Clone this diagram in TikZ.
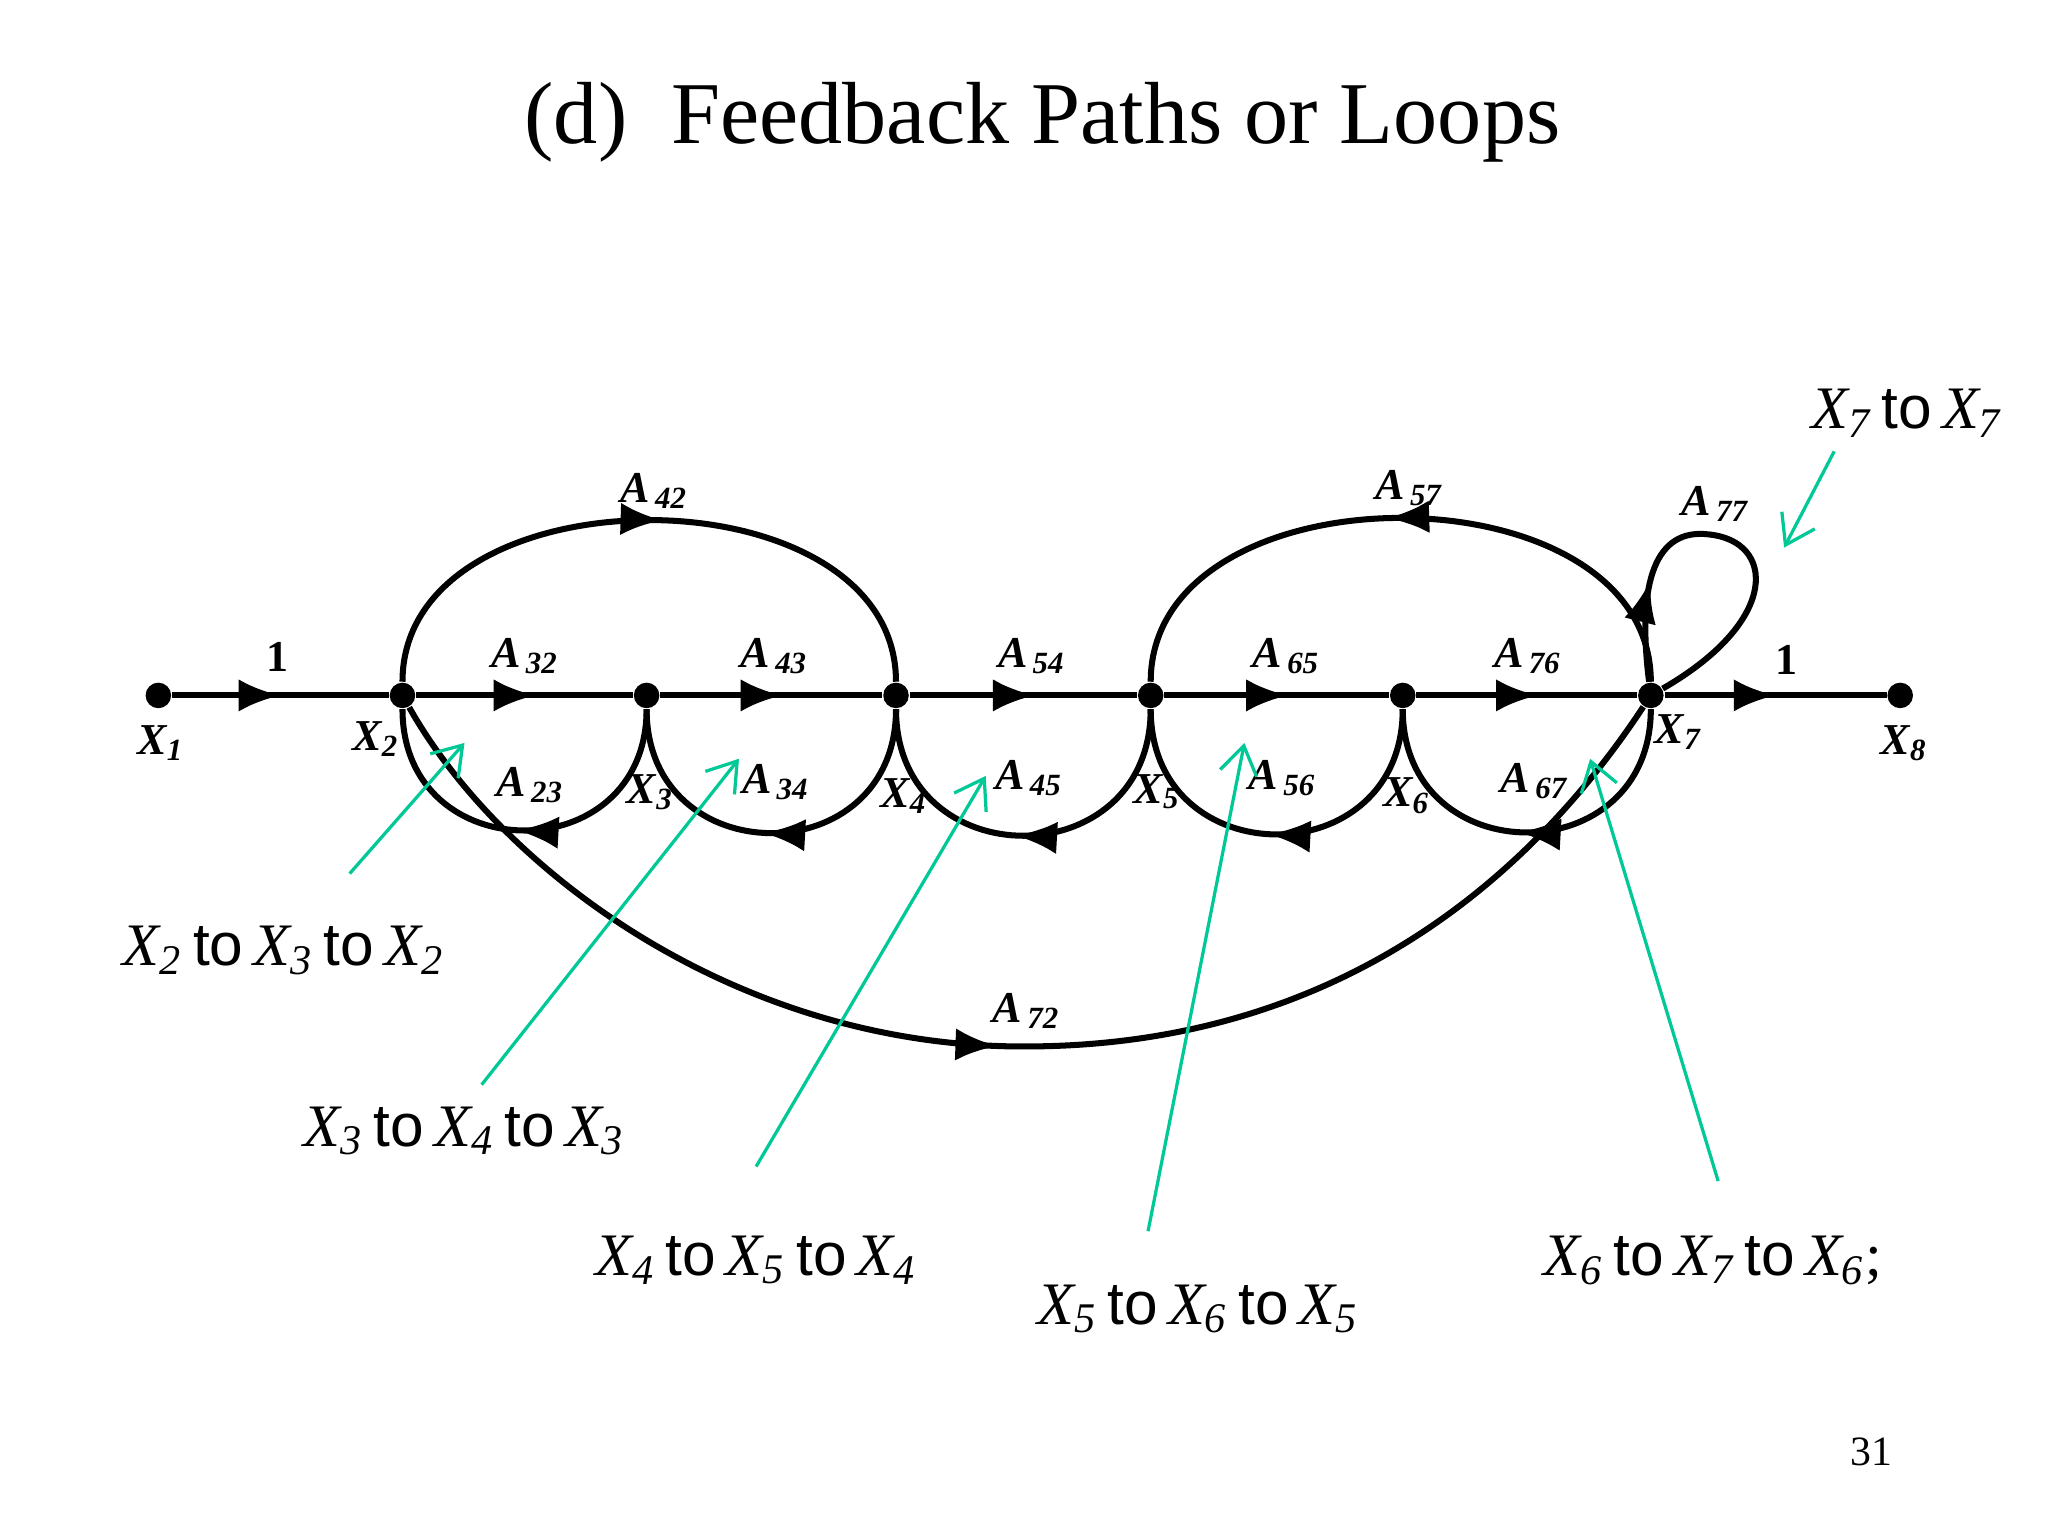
\documentclass[tikz,border=0pt]{standalone}
\usepackage{fontspec}
\setmainfont{Liberation Serif}
\newfontfamily\lsans{Liberation Sans}
\usetikzlibrary{decorations.markings,arrows.meta}
\newcommand{\lbA}[1]{{\bfseries\itshape A\textsubscript{\,#1}}}
\newcommand{\lbX}[1]{{\bfseries\itshape X\textsubscript{#1}}}
\newcommand{\tx}[1]{{\itshape X\textsubscript{#1}}}
\newcommand{\tto}{\,{\lsans to}\,}
\begin{document}
\begin{tikzpicture}[x=0.01cm,y=-0.01cm,
  dot/.style={circle,fill=black,inner sep=0pt,minimum size=5.5pt},
  edge/.style={line width=1.3pt},
  mark/.style={postaction={decorate},decoration={markings,mark=at position #1 with {\arrow{Latex[length=9pt,width=7pt]}}}},
  lab/.style={font=\fontsize{9.5}{11}\selectfont},
  big/.style={font=\fontsize{13}{15}\selectfont},
  ptr/.style={draw={rgb,255:red,0;green,200;blue,150},line width=0.7pt,-{Straight Barb[length=6pt,width=8pt]}}]
\useasboundingbox (0,0) rectangle (1552,1164);
\node[font=\fontsize{19}{22}\selectfont] (title) at (790,93) {(d)\ \ Feedback Paths or Loops};
\node[font=\fontsize{9}{11}\selectfont] (pg) at (1418,1100) {31};
\foreach \n/\x in {1/120,2/305,3/490,4/679,5/872,6/1063,7/1251,8/1440}
  \node[dot] (X\n) at (\x,527) {};
% forward path
\draw[edge,mark=0.5] (X1) -- (X2);
\draw[edge,mark=0.55] (X2) -- (X3);
\draw[edge,mark=0.55] (X3) -- (X4);
\draw[edge,mark=0.55] (X4) -- (X5);
\draw[edge,mark=0.55] (X5) -- (X6);
\draw[edge,mark=0.55] (X6) -- (X7);
\draw[edge,mark=0.5] (X7) -- (X8);
% lower small arcs (feedback)
\draw[edge,mark=0.52] (X3) to[out=-90,in=-90,looseness=1.7] (X2);
\draw[edge,mark=0.52] (X4) to[out=-90,in=-90,looseness=1.7] (X3);
\draw[edge,mark=0.52] (X5) to[out=-90,in=-90,looseness=1.7] (X4);
\draw[edge,mark=0.52] (X6) to[out=-90,in=-90,looseness=1.7] (X5);
\draw[edge,mark=0.52] (X7) to[out=-90,in=-90,looseness=1.7] (X6);
% upper arcs
\draw[edge,mark=0.52] (X2) to[out=90,in=90,looseness=1.12] (X4);
\draw[edge,mark=0.52] (X7) to[out=90,in=90,looseness=1.12] (X5);
% A72
\draw[edge,mark=0.48] (X2) .. controls (380,660) and (560,795) .. (780,793) .. controls (1000,792) and (1150,680) .. (X7);
% self loop
\draw[edge,mark=0.25] (X7) .. controls (1240,440) and (1255,400) .. (1295,405) .. controls (1345,410) and (1350,470) .. (X7);
% labels
\node[lab] (l1) at (210,498) {\bfseries 1};
\node[lab] (l2) at (1354,500) {\bfseries 1};
\node[lab] (a32) at (398,497) {\lbA{32}};
\node[lab] (a43) at (587,497) {\lbA{43}};
\node[lab] (a54) at (782,497) {\lbA{54}};
\node[lab] (a65) at (975,497) {\lbA{65}};
\node[lab] (a76) at (1158,497) {\lbA{76}};
\node[lab] (a42) at (496,372) {\lbA{42}};
\node[lab] (a57) at (1068,370) {\lbA{57}};
\node[lab] (a77) at (1300,382) {\lbA{77}};
\node[lab] (a23) at (402,595) {\lbA{23}};
\node[lab] (a34) at (588,593) {\lbA{34}};
\node[lab] (a45) at (780,590) {\lbA{45}};
\node[lab] (a56) at (972,590) {\lbA{56}};
\node[lab] (a67) at (1163,592) {\lbA{67}};
\node[lab] (a72) at (778,766) {\lbA{72}};
\node[lab] (n1) at (122,563) {\lbX{1}};
\node[lab] (n2) at (285,560) {\lbX{2}};
\node[lab] (n3) at (493,600) {\lbX{3}};
\node[lab] (n4) at (685,603) {\lbX{4}};
\node[lab] (n5) at (877,600) {\lbX{5}};
\node[lab] (n6) at (1066,603) {\lbX{6}};
\node[lab] (n7) at (1272,555) {\lbX{7}};
\node[lab] (n8) at (1443,563) {\lbX{8}};
% loop descriptions
\node[big] (d1) at (215,720) {\tx{2}\tto\tx{3}\tto\tx{2}};
\node[big] (d2) at (352,857) {\tx{3}\tto\tx{4}\tto\tx{3}};
\node[big] (d3) at (573,955) {\tx{4}\tto\tx{5}\tto\tx{4}};
\node[big] (d4) at (908,992) {\tx{5}\tto\tx{6}\tto\tx{5}};
\node[big] (d5) at (1298,955) {\tx{6}\tto\tx{7}\tto\tx{6};};
\node[big] (d6) at (1445,313) {\tx{7}\tto\tx{7}};
\coordinate (s1) at (265,662); \coordinate (e1) at (352,563);
\coordinate (s2) at (365,822); \coordinate (e2) at (560,575);
\coordinate (s3) at (573,884); \coordinate (e3) at (747,588);
\coordinate (s4) at (870,933); \coordinate (e4) at (943,563);
\coordinate (s5) at (1302,895); \coordinate (e5) at (1205,575);
\coordinate (s6) at (1390,342); \coordinate (e6) at (1352,415);
\foreach \i in {1,...,6} \draw[ptr] (s\i) -- (e\i);
\end{tikzpicture}
\end{document}
